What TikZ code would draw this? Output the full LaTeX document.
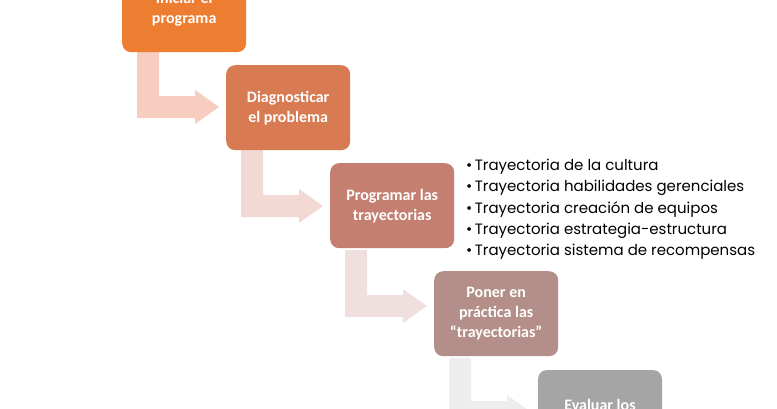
\documentclass[tikz,border=0pt]{standalone}
\usepackage{fontspec}
\setmainfont{Carlito}
\newfontfamily\listfont{Poppins}
\definecolor{c1}{HTML}{ED7D31}\definecolor{c2}{HTML}{D87B52}\definecolor{c3}{HTML}{C47F70}
\definecolor{c4}{HTML}{B48F89}\definecolor{c5}{HTML}{A5A5A5}
\definecolor{a1}{HTML}{F6CDBE}\definecolor{a2}{HTML}{F3D9D3}\definecolor{a3}{HTML}{EFE0DF}\definecolor{a4}{HTML}{EDEDED}
\begin{document}
\begin{tikzpicture}[x=1pt,y=-1pt,
  stepfont/.style={text=white,font=\bfseries\fontsize{16}{20}\selectfont},
  stepbox/.style={stepfont,rounded corners=9pt,minimum width=124pt,minimum height=85pt,align=center,inner sep=0pt,anchor=north west}]
\useasboundingbox (0,0) rectangle (777,408);
\clip (0,0) rectangle (777,408);
\newcommand\barrow[4]{%
  \fill[#1] (#2,#3) -- (#2+22,#3) -- (#2+22,#4-11) -- (#2+58,#4-11) -- (#2+58,#4-17) -- (#2+82,#4) -- (#2+58,#4+17) -- (#2+58,#4+11) -- (#2,#4+11) -- cycle;}
\barrow{a1}{137}{52}{107}
\barrow{a2}{241}{150}{206}
\barrow{a3}{345}{250}{306}
\barrow{a4}{449}{358}{412}
\node[stepbox,fill=c1] (b1) at (122,-33) {Iniciar el\\programa};
\node[stepbox,fill=c2] (b2) at (226,65) {Diagnosticar\\el problema};
\node[stepbox,fill=c3] (b3) at (330,163) {Programar las\\trayectorias};
\node[stepbox,fill=c4] (b4) at (434,271) {Poner en\\práctica las\\“trayectorias”};
\fill[c5,rounded corners=9pt] (538,370) rectangle (662,460);
\node[stepfont,anchor=base] (b5) at (600,410) {Evaluar los};
\node[anchor=north west,align=left,inner sep=0pt,font=\listfont\fontsize{15}{21.2}\selectfont] (list) at (466,159) {%
\textbullet\,Trayectoria de la cultura\\
\textbullet\,Trayectoria habilidades gerenciales\\
\textbullet\,Trayectoria creación de equipos\\
\textbullet\,Trayectoria estrategia-estructura\\
\textbullet\,Trayectoria sistema de recompensas};
\end{tikzpicture}
\end{document}
